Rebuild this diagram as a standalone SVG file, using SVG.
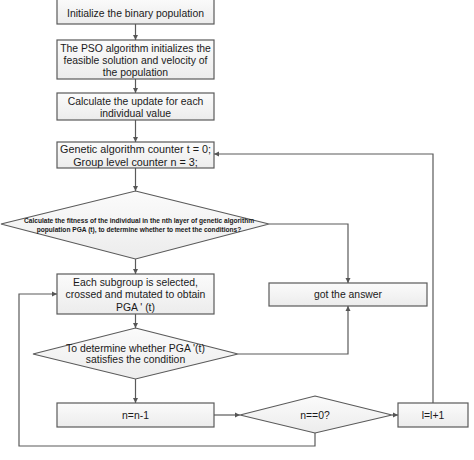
<svg xmlns="http://www.w3.org/2000/svg" width="474" height="460" viewBox="0 0 474 460">
<defs>
<linearGradient id="g" x1="0" y1="0" x2="0" y2="1"><stop offset="0" stop-color="#fbfbfb"/><stop offset="1" stop-color="#ececec"/></linearGradient>
<marker id="ah" markerWidth="6" markerHeight="6" refX="5" refY="3" orient="auto" markerUnits="userSpaceOnUse"><path d="M0,0.5 L5,3 L0,5.5 Z" fill="#555"/></marker>
</defs>
<style>
.n{fill:url(#g);stroke:#5a5a5a;stroke-width:1.2}
.t{font-family:"Liberation Sans",Arial,sans-serif;font-size:10.4px;fill:#1a1a1a;text-anchor:middle}
.s{font-size:6.6px;font-weight:bold}
.b{font-size:10.8px}
.c{fill:none;stroke:#5a5a5a;stroke-width:1.2}
</style>
<rect width="474" height="460" fill="#fff"/>
<g id="n1"><rect class="n" x="57" y="-2" width="157" height="26"/><text class="t" x="135.5" y="16.5">Initialize the binary population</text></g>
<g id="n2"><rect class="n" x="57" y="40" width="157" height="39"/><text class="t" x="135.5" y="51.5">The PSO algorithm initializes the</text><text class="t" x="135.5" y="63.5">feasible solution and velocity of</text><text class="t" x="135.5" y="75.5">the population</text></g>
<g id="n3"><rect class="n" x="57" y="93" width="157" height="27"/><text class="t" x="135.5" y="104.5">Calculate the update for each</text><text class="t" x="135.5" y="116.5">individual value</text></g>
<g id="n4"><rect class="n" x="57" y="142" width="157" height="26"/><text class="t b" x="135.5" y="152.5">Genetic algorithm counter t = 0;</text><text class="t b" x="135.5" y="165.5">Group level counter n = 3;</text></g>
<g id="d1"><polygon class="n" points="135.5,191 269,224 135.5,259 1,224"/><text class="t s" x="139" y="223">Calculate the fitness of the individual in the nth layer of genetic algorithm</text><text class="t s" x="139" y="231.5">population PGA (t), to determine whether to meet the conditions?</text></g>
<g id="n5"><rect class="n" x="57" y="274" width="157" height="40"/><text class="t" x="135.5" y="285.5">Each subgroup is selected,</text><text class="t" x="135.5" y="297.5">crossed and mutated to obtain</text><text class="t" x="135.5" y="310.5">PGA '    (t)</text></g>
<g id="ans"><rect class="n" x="269" y="283" width="158" height="23"/><text class="t" x="348" y="298">got the answer</text></g>
<g id="d2"><polygon class="n" points="135.5,328 238,354 135.5,379 33,354"/><text class="t" x="135.5" y="351.5">To determine whether PGA '(t)</text><text class="t" x="135.5" y="363">satisfies the condition</text></g>
<g id="n6"><rect class="n" x="57" y="403" width="157" height="24"/><text class="t" x="135.5" y="419">n=n-1</text></g>
<g id="d3"><polygon class="n" points="315,396 392,415 315,433 240,415"/><text class="t" x="315" y="419">n==0?</text></g>
<g id="n7"><rect class="n" x="398" y="403" width="70" height="24"/><text class="t" x="433" y="419">l=l+1</text></g>
<g id="connectors">
<path class="c" d="M135.5,24 V40" marker-end="url(#ah)"/>
<path class="c" d="M135.5,79 V93" marker-end="url(#ah)"/>
<path class="c" d="M135.5,120 V142" marker-end="url(#ah)"/>
<path class="c" d="M135.5,168 V191" marker-end="url(#ah)"/>
<path class="c" d="M135.5,259 V274" marker-end="url(#ah)"/>
<path class="c" d="M269,224 H348 V283" marker-end="url(#ah)"/>
<path class="c" d="M135.5,314 V328" marker-end="url(#ah)"/>
<path class="c" d="M238,354 H348 V306" marker-end="url(#ah)"/>
<path class="c" d="M135.5,379 V403" marker-end="url(#ah)"/>
<path class="c" d="M214,415 H240" marker-end="url(#ah)"/>
<path class="c" d="M392,415 H398" marker-end="url(#ah)"/>
<path class="c" d="M433,403 V154 H214" marker-end="url(#ah)"/>
<path class="c" d="M315,433 V446 H19 V294 H57" marker-end="url(#ah)"/>
</g>
</svg>
